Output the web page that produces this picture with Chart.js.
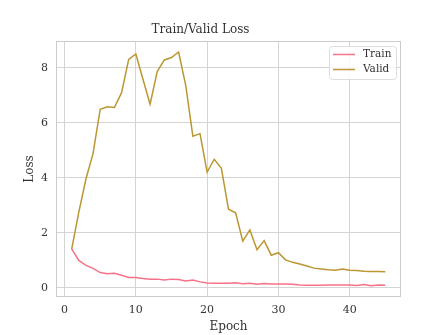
<!DOCTYPE html>
<html>
<head>
<meta charset="utf-8">
<script src="https://cdn.jsdelivr.net/npm/chart.js@4"></script>
<style>
  html, body { margin: 0; padding: 0; background: #fff; }
  #wrap { width: 446px; height: 335px; }
</style>
</head>
<body>
<div id="wrap"><canvas id="chart" width="446" height="335"></canvas></div>
<script>
var epochs = [];
for (var e = 1; e <= 45; e++) epochs.push(e);

var trainLoss = [
  1.41, 0.99, 0.81, 0.70, 0.55, 0.51, 0.52, 0.45, 0.37, 0.37,
  0.33, 0.31, 0.31, 0.28, 0.31, 0.30, 0.24, 0.28, 0.21, 0.17,
  0.16, 0.16, 0.16, 0.18, 0.14, 0.16, 0.12, 0.15, 0.13, 0.13,
  0.13, 0.12, 0.10, 0.09, 0.09, 0.09, 0.10, 0.10, 0.10, 0.10,
  0.08, 0.11, 0.07, 0.10, 0.09
];
var validLoss = [
  1.40, 2.75, 3.95, 4.88, 6.49, 6.58, 6.55, 7.09, 8.30, 8.50,
  7.58, 6.67, 7.86, 8.28, 8.37, 8.57, 7.36, 5.51, 5.60, 4.20,
  4.67, 4.34, 2.85, 2.72, 1.69, 2.10, 1.38, 1.71, 1.18, 1.27,
  1.01, 0.92, 0.86, 0.79, 0.71, 0.68, 0.65, 0.63, 0.68, 0.63,
  0.62, 0.60, 0.59, 0.59, 0.58
];
var xTicks = [0, 10, 20, 30, 40];
var yTicks = [0, 2, 4, 6, 8];

var seriesNames = ["Train", "Valid"];
var colors = ["#f77189", "#bb9632"];
var font = "'DejaVu Serif', serif";

function toPoints(xs, ys) {
  var out = [];
  for (var i = 0; i < xs.length; i++) out.push({ x: xs[i], y: ys[i] });
  return out;
}

function fixedTicks(list) {
  return function (scale) {
    scale.ticks = list.map(function (v) { return { value: v }; });
  };
}

// frame round the plot area and a legend box inside it, top right
var framePlugin = {
  id: "frame",
  afterDraw: function (chart) {
    var a = chart.chartArea, ctx = chart.ctx;
    ctx.save();
    ctx.strokeStyle = "#cccccc";
    ctx.lineWidth = 1;
    ctx.strokeRect(a.left + 0.5, a.top + 0.5, a.right - a.left - 1, a.bottom - a.top - 1);

    var bx = a.right - 72, by = a.top + 5, bw = 67, bh = 33;
    ctx.fillStyle = "rgba(255,255,255,0.85)";
    ctx.strokeStyle = "#dddddd";
    ctx.beginPath();
    ctx.roundRect(bx + 0.5, by + 0.5, bw, bh, 3);
    ctx.fill();
    ctx.stroke();
    ctx.font = "10.5px " + font;
    ctx.textBaseline = "middle";
    for (var i = 0; i < seriesNames.length; i++) {
      var ly = by + 8.5 + i * 15;
      ctx.strokeStyle = colors[i];
      ctx.lineWidth = 1.5;
      ctx.beginPath();
      ctx.moveTo(bx + 4, ly);
      ctx.lineTo(bx + 26, ly);
      ctx.stroke();
      ctx.fillStyle = "#333333";
      ctx.fillText(seriesNames[i], bx + 34, ly);
    }
    ctx.restore();
  }
};

new Chart(document.getElementById("chart"), {
  type: "line",
  data: {
    datasets: [
      {
        label: seriesNames[0],
        data: toPoints(epochs, trainLoss),
        borderColor: colors[0],
        backgroundColor: colors[0],
        borderWidth: 1.5,
        pointRadius: 0,
        tension: 0,
        fill: false
      },
      {
        label: seriesNames[1],
        data: toPoints(epochs, validLoss),
        borderColor: colors[1],
        backgroundColor: colors[1],
        borderWidth: 1.5,
        pointRadius: 0,
        tension: 0,
        fill: false
      }
    ]
  },
  options: {
    responsive: false,
    animation: false,
    layout: { padding: { left: 0, right: 45, top: 0, bottom: 0 } },
    plugins: {
      legend: { display: false },
      tooltip: { enabled: false },
      title: {
        display: true,
        text: "Train/Valid Loss",
        color: "#333333",
        font: { family: font, size: 12, weight: "normal", lineHeight: 1.2 },
        padding: { top: 23, bottom: 3.6 }
      }
    },
    scales: {
      x: {
        type: "linear",
        min: -1.2,
        max: 47.2,
        afterBuildTicks: fixedTicks(xTicks),
        afterFit: function (s) { s.height = 38; },
        grid: { color: "#d4d4d4", lineWidth: 1, drawTicks: false },
        border: { display: false },
        ticks: { color: "#333333", padding: 7, font: { family: font, size: 11 } },
        title: {
          display: true,
          text: "Epoch",
          color: "#333333",
          font: { family: font, size: 12 },
          padding: { top: 0, bottom: 1 }
        }
      },
      y: {
        min: -0.34,
        max: 8.97,
        afterBuildTicks: fixedTicks(yTicks),
        afterFit: function (s) { s.width = 56; },
        grid: { color: "#d4d4d4", lineWidth: 1, drawTicks: false },
        border: { display: false },
        ticks: { color: "#333333", padding: 8, font: { family: font, size: 11 } },
        title: {
          display: true,
          text: "Loss",
          color: "#333333",
          font: { family: font, size: 12 },
          padding: { top: 23, bottom: 0 }
        }
      }
    }
  },
  plugins: [framePlugin]
});
</script>
</body>
</html>
